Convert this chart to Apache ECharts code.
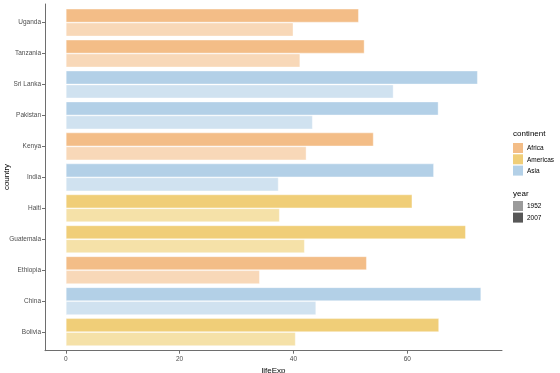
<!DOCTYPE html>
<html><head><meta charset="utf-8">
<script src="https://cdn.jsdelivr.net/npm/echarts@6/dist/echarts.min.js"></script>
<style>html,body{margin:0;padding:0;background:#fff}#c{width:560px;height:373px}</style>
</head><body><div id="c"></div>
<script>
const countries = ["Bolivia","China","Ethiopia","Guatemala","Haiti","India","Kenya","Pakistan","Sri Lanka","Tanzania","Uganda"];
const continents = ["Americas","Asia","Africa","Americas","Americas","Asia","Africa","Asia","Asia","Africa","Africa"];
const life1952 = [40.4, 44.0, 34.1, 42.0, 37.6, 37.4, 42.3, 43.4, 57.6, 41.2, 40.0];
const life2007 = [65.6, 73.0, 52.9, 70.3, 60.9, 64.7, 54.1, 65.5, 72.4, 52.5, 51.5];
const xTicks = [0, 20, 40, 60];
const continentNames = ["Africa","Americas","Asia"];
const yearNames = ["1952","2007"];

const col2007 = {Africa:"#F3BD87", Americas:"#F0CE78", Asia:"#B3D0E7"};
const col1952 = {Africa:"#F8D8B8", Americas:"#F5E1A8", Asia:"#D0E2F0"};
const yearCol = {"1952":"#9B9B9B","2007":"#575757"};

const FONT = "Liberation Sans";
const xmax = Math.max(...life2007, ...life1952);
const xMin = -0.05*xmax, xMax = 1.05*xmax;

const chart = echarts.init(document.getElementById('c'), null, {renderer:'canvas'});

const graphics = [];
graphics.push({type:'text', left:513, top:130, style:{text:'continent', font:'8px "Liberation Sans"', fill:'#000'}});
continentNames.forEach((n,i)=>{
  graphics.push({type:'rect', shape:{x:513, y:143+i*11.3, width:10, height:10}, style:{fill:col2007[n]}});
  graphics.push({type:'text', left:527, top:145+i*11.3, style:{text:n, font:'6.5px "Liberation Sans"', fill:'#000'}});
});
graphics.push({type:'text', left:513, top:190, style:{text:'year', font:'8px "Liberation Sans"', fill:'#000'}});
yearNames.forEach((n,i)=>{
  graphics.push({type:'rect', shape:{x:513, y:201+i*11.6, width:10, height:10}, style:{fill:yearCol[n]}});
  graphics.push({type:'text', left:527, top:203+i*11.6, style:{text:n, font:'6.5px "Liberation Sans"', fill:'#000'}});
});
graphics.push({type:'text', x:7, y:177, rotation:Math.PI/2, style:{text:'country', font:'8px "Liberation Sans"', fill:'#000', align:'center', verticalAlign:'middle'}});

chart.setOption({
  animation:false,
  textStyle:{fontFamily:FONT},
  grid:[
    {left:45, right:58, top:7.1, bottom:25.4, containLabel:false, outerBoundsMode:'none'},
    {left:45, right:58, top:4, bottom:22.3, containLabel:false, outerBoundsMode:'none'}
  ],
  xAxis:[
    {gridIndex:0, type:'value', min:xMin, max:xMax, show:false},
    {gridIndex:1, type:'value', min:xMin, max:xMax,
     axisLine:{show:true, onZero:false, lineStyle:{color:'#6e6e6e', width:1}},
     axisTick:{show:true, length:3, lineStyle:{color:'#6e6e6e'}, customValues:xTicks},
     axisLabel:{show:true, fontSize:6.5, color:'#4d4d4d', margin:5, customValues:xTicks},
     splitLine:{show:false},
     name:'lifeExp', nameLocation:'middle', nameGap:16, nameMoveOverlap:false,
     nameTextStyle:{fontSize:8, color:'#000'}}
  ],
  yAxis:[
    {gridIndex:0, type:'category', data:countries,
     axisLine:{show:false, onZero:false},
     axisTick:{show:true, length:3, alignWithLabel:true, lineStyle:{color:'#6e6e6e'}},
     axisLabel:{fontSize:6.5, color:'#4d4d4d', margin:4},
     splitLine:{show:false}},
    {gridIndex:1, type:'value', min:0, max:1,
     axisLine:{show:true, onZero:false, lineStyle:{color:'#6e6e6e', width:1}},
     axisTick:{show:false}, axisLabel:{show:false}, splitLine:{show:false}}
  ],
  series:[
    {name:'2007', type:'bar', xAxisIndex:0, yAxisIndex:0, barWidth:'45%', barGap:'0%',
     data: life2007.map((v,i)=>({value:v, itemStyle:{color:col2007[continents[i]], borderColor:'rgba(255,255,255,0.5)', borderWidth:0.8}}))},
    {name:'1952', type:'bar', xAxisIndex:0, yAxisIndex:0, barWidth:'45%', barGap:'0%',
     data: life1952.map((v,i)=>({value:v, itemStyle:{color:col1952[continents[i]], borderColor:'rgba(255,255,255,0.5)', borderWidth:0.8}}))}
  ],
  graphic: graphics
});
</script></body></html>
